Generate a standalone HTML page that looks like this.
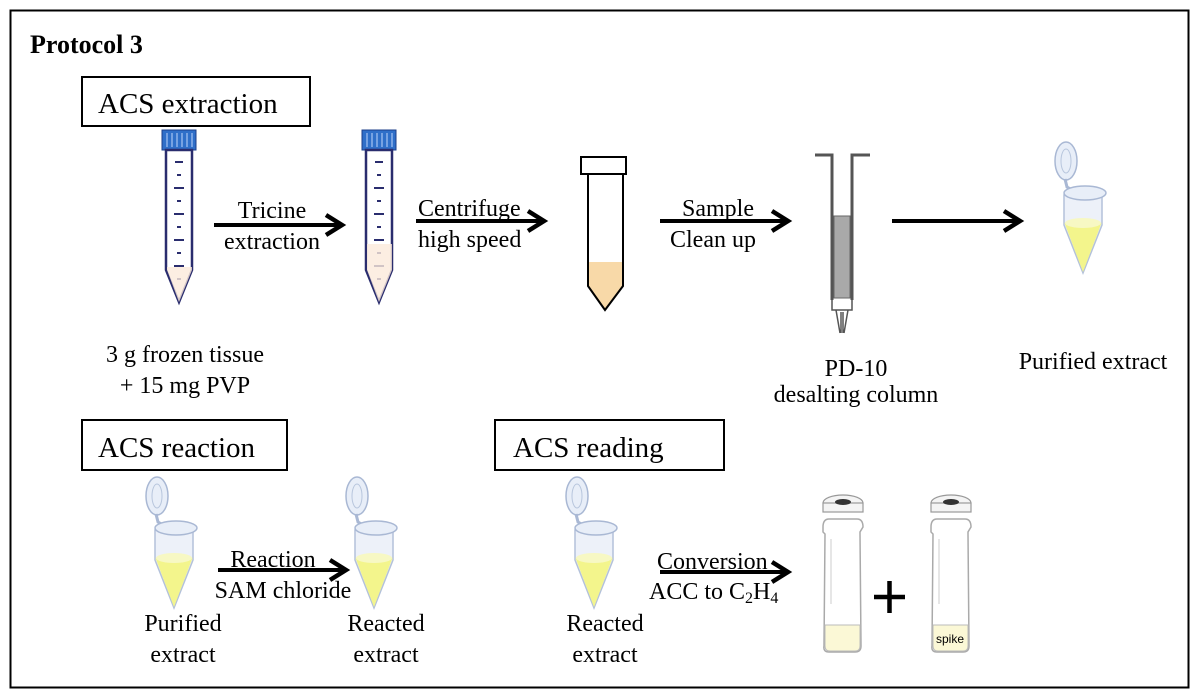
<!DOCTYPE html>
<html><head><meta charset="utf-8"><style>
body{margin:0;background:#fff;}
svg{display:block;}
text{font-family:"Liberation Serif",serif;fill:#000;}
</style></head><body>
<svg width="1200" height="699" viewBox="0 0 1200 699" xmlns="http://www.w3.org/2000/svg">
<defs>
<g id="epp">
  <ellipse cx="14" cy="20" rx="11" ry="19" fill="#e8eef8" stroke="#a9b8d4" stroke-width="1.5"/>
  <ellipse cx="14" cy="20" rx="5" ry="12" fill="none" stroke="#b8c6dd" stroke-width="1"/>
  <path d="M13 38 L15 46 L22 50" fill="none" stroke="#a9b8d4" stroke-width="3"/>
  <path d="M12 54 L50 54 L50 84 L31 132 L12 84 Z" fill="#edf1f9" stroke="#b3c1da" stroke-width="1.5"/>
  <path d="M12.5 82 Q31 76 49.5 82 L31 131 Z" fill="#f3f58c"/>
  <ellipse cx="31" cy="82" rx="18" ry="5" fill="#f7f8c4"/>
  <ellipse cx="33" cy="52" rx="21" ry="7" fill="#e8eef8" stroke="#a9b8d4" stroke-width="1.5"/>
</g>
<g id="falcon">
  <rect x="0" y="0" width="34" height="20" fill="#2f6fc9" stroke="#1c3f8a" stroke-width="1"/>
  <path d="M5 3 V17 M10 3 V17 M15 3 V17 M20 3 V17 M25 3 V17 M30 3 V17" stroke="#8fb3ea" stroke-width="1.5"/>
  <path d="M4 20 L30 20 L30 140 L17 172 L4 140 Z" fill="#fff" stroke="#2a2d6e" stroke-width="2.5"/>
  <g stroke="#2a2d6e" stroke-width="2">
  <path d="M13 32 H21 M15 45 H19 M12 58 H22 M15 71 H19 M12 84 H22 M15 97 H19 M12 110 H22 M15 123 H19 M12 136 H22 M15 149 H19"/>
  </g>
</g>
<g id="vial">
  <ellipse cx="20" cy="9" rx="20" ry="8" fill="#f4f4f4" stroke="#999" stroke-width="1.2"/>
  <rect x="0" y="9" width="40" height="9" fill="#f4f4f4" stroke="#999" stroke-width="1.2"/>
  <ellipse cx="20" cy="8" rx="8" ry="3" fill="#333"/>
  <path d="M0 33 Q0 25 6 25 L34 25 Q40 25 40 33 L37 38 L37 40 L38 152 Q38 158 32 158 L6 158 Q0 158 1 152 L2 40 L0 38 Z" fill="#fff" stroke="#aaa" stroke-width="1.5"/>
  <path d="M2 131 L37 131 L37 152 Q37 157 32 157 L7 157 Q2 157 2 152 Z" fill="#fbf8d6" stroke="#bbb" stroke-width="1"/>
  <path d="M8 45 V110" stroke="#ddd" stroke-width="1.5"/>
</g>
<g id="arr">
  <path d="M0 0 H124" stroke="#000" stroke-width="4"/>
  <path d="M112 -10 L128 0 L112 10" fill="none" stroke="#000" stroke-width="4.5"/>
</g>
</defs>

<rect x="10.5" y="10.5" width="1178" height="677" fill="none" stroke="#000" stroke-width="2"/>
<text x="30" y="53" font-size="26" font-weight="bold">Protocol 3</text>

<rect x="82" y="77" width="228" height="49" fill="#fff" stroke="#000" stroke-width="2"/>
<text x="98" y="113" font-size="29">ACS extraction</text>

<use href="#falcon" x="162" y="130"/>
<path d="M167 267 L192 267 L192 270 L179 302 L167 270 Z" fill="#fbeadb" opacity="0.8"/>
<use href="#falcon" x="362" y="130"/>
<path d="M367 244 L392 244 L392 270 L379 302 L367 270 Z" fill="#fbeadb" opacity="0.8"/>

<use href="#arr" x="214" y="225"/>
<text x="272" y="218" font-size="24" text-anchor="middle">Tricine</text>
<text x="272" y="249" font-size="24" text-anchor="middle">extraction</text>
<use href="#arr" x="416" y="221"/>
<text x="418" y="216" font-size="24">Centrifuge</text>
<text x="418" y="247" font-size="24">high speed</text>

<rect x="581" y="157" width="45" height="17" fill="#fff" stroke="#000" stroke-width="2"/>
<path d="M588 262 L623 262 L623 286 L605 310 L588 286 Z" fill="#f8d9a8"/>
<path d="M588 174 L588 286 L605 310 L623 286 L623 174" fill="none" stroke="#000" stroke-width="2"/>

<use href="#arr" x="660" y="221"/>
<text x="682" y="216" font-size="24">Sample</text>
<text x="670" y="247" font-size="24">Clean up</text>

<path d="M815 155 H832 V300 M870 155 H852 V300" fill="none" stroke="#555" stroke-width="3"/>
<path d="M832 300 V310 H852 V300 M832 155 V310" fill="none" stroke="#555" stroke-width="1.5"/>
<rect x="834" y="216" width="16" height="82" fill="#a9a9a9" stroke="#666"/>
<path d="M836 310 L840 333 M848 310 L844 333 M841 312 V333 M843 312 V333" stroke="#555" stroke-width="1.5"/>

<use href="#arr" x="892" y="221"/>
<use href="#epp" x="1052" y="141"/>

<text x="185" y="362" font-size="24" text-anchor="middle">3 g frozen tissue</text>
<text x="185" y="393" font-size="24" text-anchor="middle">+ 15 mg PVP</text>
<text x="856" y="376" font-size="24" text-anchor="middle">PD-10</text>
<text x="856" y="402" font-size="24" text-anchor="middle">desalting column</text>
<text x="1093" y="369" font-size="24" text-anchor="middle">Purified extract</text>

<rect x="82" y="420" width="205" height="50" fill="#fff" stroke="#000" stroke-width="2"/>
<text x="98" y="457" font-size="29">ACS reaction</text>
<rect x="495" y="420" width="229" height="50" fill="#fff" stroke="#000" stroke-width="2"/>
<text x="513" y="457" font-size="29">ACS reading</text>

<use href="#epp" x="143" y="476"/>
<use href="#epp" x="343" y="476"/>
<use href="#epp" x="563" y="476"/>

<use href="#arr" x="218" y="570"/>
<text x="273" y="567" font-size="24" text-anchor="middle">Reaction</text>
<text x="283" y="598" font-size="24" text-anchor="middle">SAM chloride</text>
<text x="183" y="631" font-size="24" text-anchor="middle">Purified</text>
<text x="183" y="662" font-size="24" text-anchor="middle">extract</text>
<text x="386" y="631" font-size="24" text-anchor="middle">Reacted</text>
<text x="386" y="662" font-size="24" text-anchor="middle">extract</text>
<text x="605" y="631" font-size="24" text-anchor="middle">Reacted</text>
<text x="605" y="662" font-size="24" text-anchor="middle">extract</text>

<use href="#arr" x="660" y="572"/>
<text x="657" y="569" font-size="24">Conversion</text>
<text x="649" y="599" font-size="24">ACC to C<tspan font-size="16" dy="4">2</tspan><tspan dy="-4">H</tspan><tspan font-size="16" dy="4">4</tspan></text>

<use href="#vial" x="823" y="494"/>
<use href="#vial" x="931" y="494"/>
<text x="950" y="643" font-size="12" text-anchor="middle" style="font-family:'Liberation Sans',sans-serif">spike</text>
<path d="M874 597 H905 M889.5 581 V613" stroke="#000" stroke-width="4.5"/>
</svg>
</body></html>
